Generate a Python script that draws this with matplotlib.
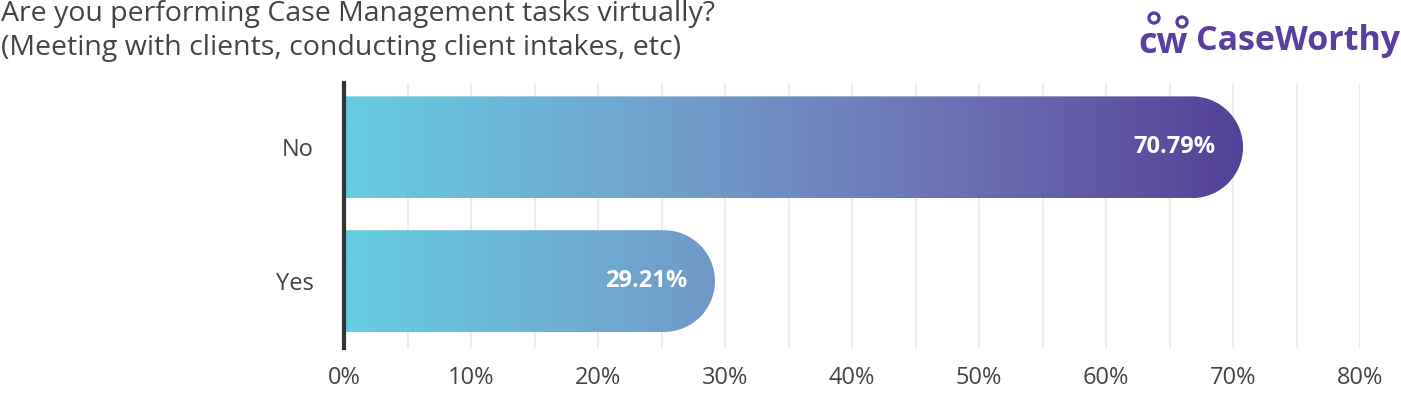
import matplotlib
matplotlib.use("Agg")
import matplotlib.pyplot as plt
import numpy as np
from matplotlib.colors import LinearSegmentedColormap
from matplotlib.path import Path
from matplotlib.patches import PathPatch, Circle

plt.rcParams['font.family'] = ['Open Sans', 'DejaVu Sans']

title = "Are you performing Case Management tasks virtually?\n(Meeting with clients, conducting client intakes, etc)"
categories = ['Yes', 'No']
values = [29.21, 70.79]
xticks = [0, 10, 20, 30, 40, 50, 60, 70, 80]
xtick_labels = ['0%', '10%', '20%', '30%', '40%', '50%', '60%', '70%', '80%']

W, H = 1401, 401
fig = plt.figure(figsize=(W / 100, H / 100), dpi=100)
fig.patch.set_facecolor('white')

# axes box in pixels
ax_l, ax_r, ax_t, ax_b = 344, 1360, 83, 348
ax = fig.add_axes([ax_l / W, (H - ax_b) / H, (ax_r - ax_l) / W, (ax_b - ax_t) / H])
xmax = 80
ylo, yhi = -0.5, 1.48
ax.set_xlim(0, xmax)
ax.set_ylim(ylo, yhi)

bar_h = 0.76
px_x = (ax_r - ax_l) / xmax
px_y = (ax_b - ax_t) / (yhi - ylo)
ry = bar_h / 2
rx = ry * px_y / px_x

cmap = LinearSegmentedColormap.from_list('cw', [
    (0.0, '#66CDE2'), (0.31, '#6FA6CF'), (0.40, '#7199C8'),
    (0.68, '#6C70B4'), (0.94, '#5A4A9C'), (1.0, '#52419A')])
grad_end = 71.0
xs = np.linspace(0, xmax, 800)
grad = np.clip(xs / grad_end, 0, 1)[None, :]

for i, v in enumerate(values):
    y0, y1 = i - ry, i + ry
    t = np.linspace(-np.pi / 2, np.pi / 2, 60)
    arc = np.column_stack([v - rx + rx * np.cos(t), i + ry * np.sin(t)])
    pts = np.vstack([[0, y0], arc, [0, y1], [0, y0]])
    patch = PathPatch(Path(pts), facecolor='none', edgecolor='none')
    ax.add_patch(patch)
    im = ax.imshow(grad, cmap=cmap, vmin=0, vmax=1, extent=[0, xmax, y0, y1],
                   aspect='auto', origin='lower', zorder=2, interpolation='bilinear')
    im.set_clip_path(patch)
    ax.text(v - 2.2, i, f'{v:.2f}%', color='white', fontsize=17, fontweight='bold',
            ha='right', va='center', zorder=4)

ax.set_xticks(xticks)
ax.set_xticklabels(xtick_labels)
ax.set_xticks(np.arange(5, 80, 10), minor=True)
ax.grid(True, axis='x', which='both', color='#EDEDED', linewidth=1.5, zorder=0)
ax.set_axisbelow(True)
ax.set_yticks(range(len(categories)))
ax.set_yticklabels(categories)
ax.tick_params(axis='both', which='both', length=0, labelsize=17, labelcolor='#444444')
ax.tick_params(axis='x', pad=13)
ax.tick_params(axis='y', pad=22)
for s in ['top', 'right', 'bottom']:
    ax.spines[s].set_visible(False)
ax.spines['left'].set_color('#333333')
ax.spines['left'].set_linewidth(3)
ax.spines['left'].set_zorder(5)

fig.text(1 / W, 1 - 0 / H, title, ha='left', va='top', fontsize=20.5,
         color='#444444', linespacing=1.3)

# logo
purple = '#5B3FA0'
fig.text(1196 / W, 1 - 41 / H, 'CaseWorthy', ha='left', va='center', fontsize=24.5,
         fontweight='bold', color=purple)
fig.text(1138 / W, 1 - 44 / H, 'cw', ha='left', va='center', fontsize=26,
         fontweight='bold', color=purple)
for cx, cy in [(1154, 18), (1182, 22)]:
    fig.patches.append(Circle((cx / 100, (H - cy) / 100), 0.05,
                              transform=fig.dpi_scale_trans,
                              facecolor='none', edgecolor=purple, linewidth=2.4))

fig.savefig('out.png', dpi=100, facecolor='white')
